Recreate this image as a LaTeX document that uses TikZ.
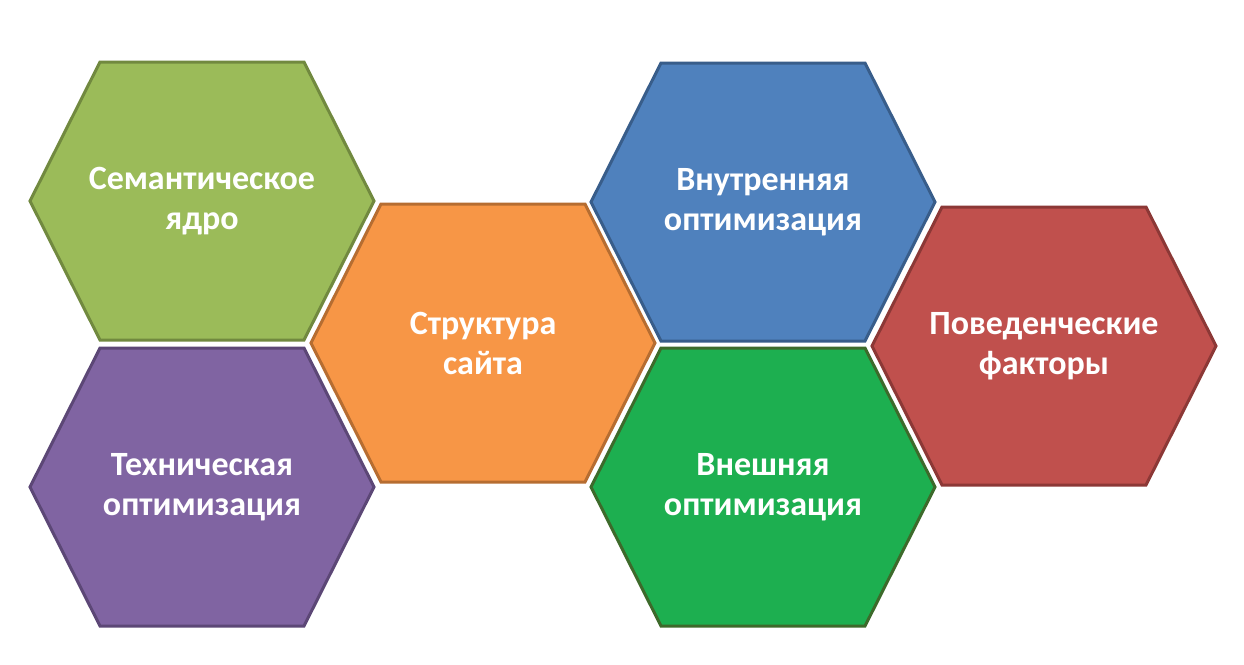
\documentclass[tikz,border=0pt]{standalone}
\usepackage{fontspec}
\setmainfont{Carlito}
\begin{document}
\begin{tikzpicture}[x=1pt,y=-1pt,
  hexline/.style={line width=3pt, line join=miter},
  hextext/.style={text=white, font=\fontsize{34}{40}\selectfont\bfseries, align=center, inner sep=0pt}]
\useasboundingbox[fill=white] (0,0) rectangle (1244,664);
\definecolor{gA}{HTML}{9BBB59}\definecolor{gAd}{HTML}{71893F}
\definecolor{pA}{HTML}{8064A2}\definecolor{pAd}{HTML}{5C4776}
\definecolor{oA}{HTML}{F79646}\definecolor{oAd}{HTML}{B66D31}
\definecolor{bA}{HTML}{4F81BD}\definecolor{bAd}{HTML}{385D8A}
\definecolor{eA}{HTML}{1DAF50}\definecolor{eAd}{HTML}{3D6A2B}
\definecolor{rA}{HTML}{C0504D}\definecolor{rAd}{HTML}{8C3836}
\newcommand\hexa[5]{%
  \coordinate (#5) at (#1,#2);
  \draw[hexline, fill=#3, draw=#4]
    ({#1-172},#2) -- ({#1-102},{#2-139}) -- ({#1+102},{#2-139}) --
    ({#1+172},#2) -- ({#1+102},{#2+139}) -- ({#1-102},{#2+139}) -- cycle;}
\hexa{202}{201}{gA}{gAd}{h1}
\hexa{202}{487}{pA}{pAd}{h2}
\hexa{483}{343}{oA}{oAd}{h3}
\hexa{763}{202}{bA}{bAd}{h4}
\hexa{763}{487}{eA}{eAd}{h5}
\hexa{1044}{346}{rA}{rAd}{h6}
\node[hextext] (t1) at (h1) {Семантическое\\ядро};
\node[hextext] (t2) at (h2) {Техническая\\оптимизация};
\node[hextext] (t3) at (h3) {Структура\\сайта};
\node[hextext] (t4) at (h4) {Внутренняя\\оптимизация};
\node[hextext] (t5) at (h5) {Внешняя\\оптимизация};
\node[hextext] (t6) at (h6) {Поведенческие\\факторы};
\end{tikzpicture}
\end{document}
